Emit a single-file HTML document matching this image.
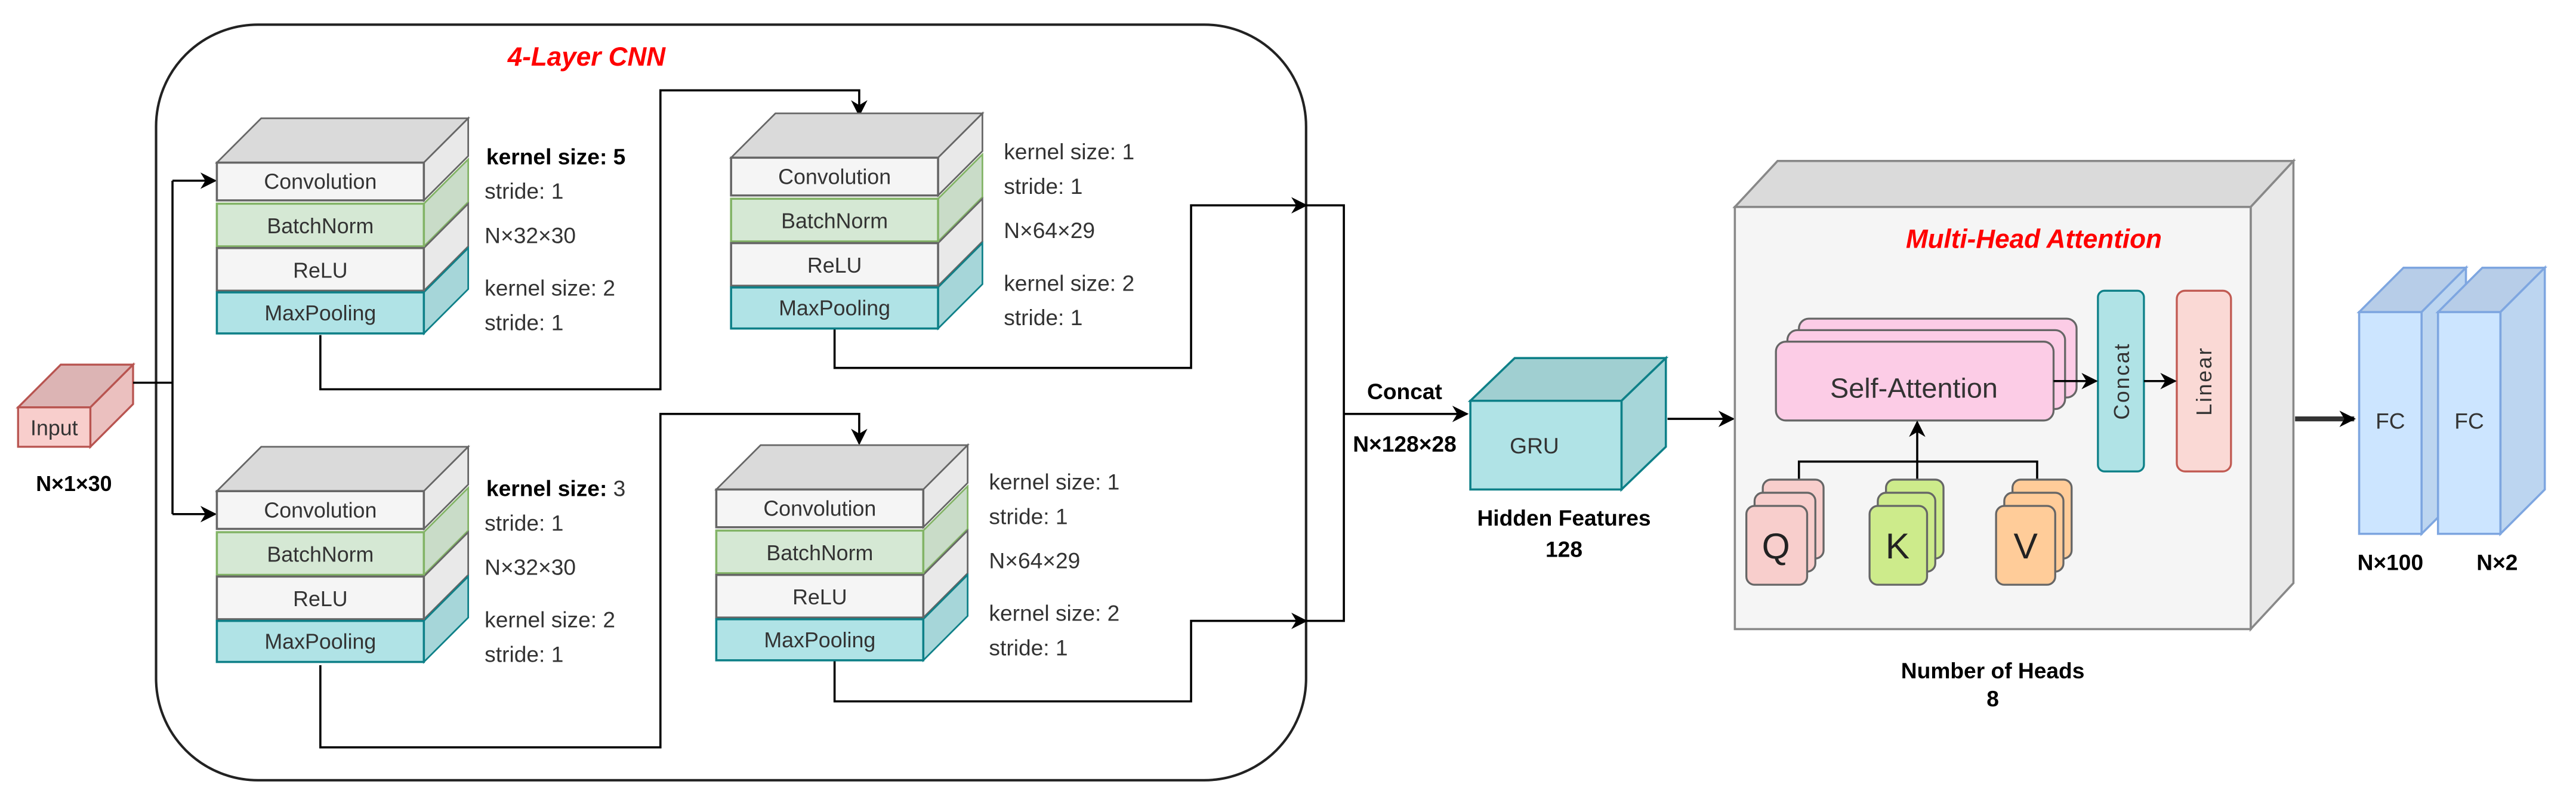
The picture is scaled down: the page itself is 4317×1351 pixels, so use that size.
<!DOCTYPE html>
<html><head><meta charset="utf-8"><style>
html,body{margin:0;padding:0;background:#fff}
svg{display:block}
text{font-family:"Liberation Sans",Arial,sans-serif}
</style></head><body>
<svg width="4317" height="1351" viewBox="0 0 1568 490.7" preserveAspectRatio="none" xmlns="http://www.w3.org/2000/svg">
<defs>
<marker id="a" markerWidth="10" markerHeight="10" refX="9" refY="5" orient="auto" markerUnits="userSpaceOnUse">
<path d="M0,0 L10,5 L0,10 L3,5 z" fill="#000"/></marker>
</defs>
<rect width="1568" height="491" fill="#fff"/>
<!-- CNN container -->
<rect x="95" y="15" width="700" height="460" rx="62" fill="none" stroke="#222" stroke-width="1.5"/>
<text x="357" y="40" font-size="16" font-weight="bold" font-style="italic" fill="#f00" text-anchor="middle">4-Layer CNN</text>

<!-- Input -->
<polygon points="11,248 37,222 81,222 55,248" fill="#dcb4b4" stroke="#b85450" stroke-width="1.2"/>
<polygon points="55,248 81,222 81,246 55,272" fill="#ebc0bf" stroke="#b85450" stroke-width="1.2"/>
<rect x="11" y="248" width="44" height="24" fill="#f8cecc" stroke="#b85450" stroke-width="1.2"/>
<text x="33" y="265" font-size="13" text-anchor="middle" fill="#333">Input</text>
<text x="45" y="299" font-size="13" font-weight="bold" text-anchor="middle">N×1×30</text>

<g fill="none" stroke="#000" stroke-width="1.3">
<path d="M81,233 H105"/>
<path d="M105,110 V313"/>
<path d="M105,110 H131" marker-end="url(#a)"/>
<path d="M105,313 H131" marker-end="url(#a)"/>
<path d="M195,204 V237 H402 V55 H523 V70" marker-end="url(#a)"/>
<path d="M195,405 V455 H402 V252 H523 V270" marker-end="url(#a)"/>
<path d="M508,200 V224 H725 V125 H795" marker-end="url(#a)"/>
<path d="M508,402 V427 H725 V378 H795" marker-end="url(#a)"/>
<path d="M795,125 H818 V378 H795"/>
<path d="M818,252 H893" marker-end="url(#a)"/>
<path d="M1015,255 H1055" marker-end="url(#a)"/>
</g>

<!-- Stacks -->
<g id="s1" transform="translate(132,99)">
<polygon points="0,0 27,-27 153,-27 126,0" fill="#dadada" stroke="#666"/>
<polygon points="126,0 153,-27 153,-4 126,23" fill="#e9e9e9" stroke="#666"/>
<polygon points="126,25 153,-2 153,24 126,51" fill="#c9dcc8" stroke="#82b366"/>
<polygon points="126,52 153,25 153,51 126,78" fill="#e9e9e9" stroke="#666"/>
<polygon points="126,79 153,52 153,77 126,104" fill="#a6d6d9" stroke="#0e8088"/>
<rect x="0" y="0" width="126" height="23" fill="#f5f5f5" stroke="#666" stroke-width="1.3"/>
<rect x="0" y="25" width="126" height="26" fill="#d5e8d4" stroke="#82b366" stroke-width="1.3"/>
<rect x="0" y="52" width="126" height="26" fill="#f5f5f5" stroke="#666" stroke-width="1.3"/>
<rect x="0" y="79" width="126" height="25" fill="#b0e3e6" stroke="#0e8088" stroke-width="1.3"/>
<g font-size="13" text-anchor="middle" fill="#333">
<text x="63" y="16">Convolution</text><text x="63" y="43">BatchNorm</text><text x="63" y="70">ReLU</text><text x="63" y="96">MaxPooling</text></g>
</g>
<g transform="translate(445,96)">
<polygon points="0,0 27,-27 153,-27 126,0" fill="#dadada" stroke="#666"/>
<polygon points="126,0 153,-27 153,-4 126,23" fill="#e9e9e9" stroke="#666"/>
<polygon points="126,25 153,-2 153,24 126,51" fill="#c9dcc8" stroke="#82b366"/>
<polygon points="126,52 153,25 153,51 126,78" fill="#e9e9e9" stroke="#666"/>
<polygon points="126,79 153,52 153,77 126,104" fill="#a6d6d9" stroke="#0e8088"/>
<rect x="0" y="0" width="126" height="23" fill="#f5f5f5" stroke="#666" stroke-width="1.3"/>
<rect x="0" y="25" width="126" height="26" fill="#d5e8d4" stroke="#82b366" stroke-width="1.3"/>
<rect x="0" y="52" width="126" height="26" fill="#f5f5f5" stroke="#666" stroke-width="1.3"/>
<rect x="0" y="79" width="126" height="25" fill="#b0e3e6" stroke="#0e8088" stroke-width="1.3"/>
<g font-size="13" text-anchor="middle" fill="#333">
<text x="63" y="16">Convolution</text><text x="63" y="43">BatchNorm</text><text x="63" y="70">ReLU</text><text x="63" y="96">MaxPooling</text></g>
</g>
<g transform="translate(132,299)">
<polygon points="0,0 27,-27 153,-27 126,0" fill="#dadada" stroke="#666"/>
<polygon points="126,0 153,-27 153,-4 126,23" fill="#e9e9e9" stroke="#666"/>
<polygon points="126,25 153,-2 153,24 126,51" fill="#c9dcc8" stroke="#82b366"/>
<polygon points="126,52 153,25 153,51 126,78" fill="#e9e9e9" stroke="#666"/>
<polygon points="126,79 153,52 153,77 126,104" fill="#a6d6d9" stroke="#0e8088"/>
<rect x="0" y="0" width="126" height="23" fill="#f5f5f5" stroke="#666" stroke-width="1.3"/>
<rect x="0" y="25" width="126" height="26" fill="#d5e8d4" stroke="#82b366" stroke-width="1.3"/>
<rect x="0" y="52" width="126" height="26" fill="#f5f5f5" stroke="#666" stroke-width="1.3"/>
<rect x="0" y="79" width="126" height="25" fill="#b0e3e6" stroke="#0e8088" stroke-width="1.3"/>
<g font-size="13" text-anchor="middle" fill="#333">
<text x="63" y="16">Convolution</text><text x="63" y="43">BatchNorm</text><text x="63" y="70">ReLU</text><text x="63" y="96">MaxPooling</text></g>
</g>
<g transform="translate(436,298)">
<polygon points="0,0 27,-27 153,-27 126,0" fill="#dadada" stroke="#666"/>
<polygon points="126,0 153,-27 153,-4 126,23" fill="#e9e9e9" stroke="#666"/>
<polygon points="126,25 153,-2 153,24 126,51" fill="#c9dcc8" stroke="#82b366"/>
<polygon points="126,52 153,25 153,51 126,78" fill="#e9e9e9" stroke="#666"/>
<polygon points="126,79 153,52 153,77 126,104" fill="#a6d6d9" stroke="#0e8088"/>
<rect x="0" y="0" width="126" height="23" fill="#f5f5f5" stroke="#666" stroke-width="1.3"/>
<rect x="0" y="25" width="126" height="26" fill="#d5e8d4" stroke="#82b366" stroke-width="1.3"/>
<rect x="0" y="52" width="126" height="26" fill="#f5f5f5" stroke="#666" stroke-width="1.3"/>
<rect x="0" y="79" width="126" height="25" fill="#b0e3e6" stroke="#0e8088" stroke-width="1.3"/>
<g font-size="13" text-anchor="middle" fill="#333">
<text x="63" y="16">Convolution</text><text x="63" y="43">BatchNorm</text><text x="63" y="70">ReLU</text><text x="63" y="96">MaxPooling</text></g>
</g>

<!-- Params -->
<g font-size="13.5" fill="#333">
<text x="296" y="100"><tspan font-weight="bold" fill="#000">kernel size:</tspan> <tspan font-weight="bold" fill="#000">5</tspan></text>
<text x="295" y="121">stride: 1</text>
<text x="295" y="148">N×32×30</text>
<text x="295" y="180">kernel size: 2</text>
<text x="295" y="201">stride: 1</text>
<text x="611" y="97">kernel size: 1</text>
<text x="611" y="118">stride: 1</text>
<text x="611" y="145">N×64×29</text>
<text x="611" y="177">kernel size: 2</text>
<text x="611" y="198">stride: 1</text>
<text x="296" y="302"><tspan font-weight="bold" fill="#000">kernel size:</tspan> 3</text>
<text x="295" y="323">stride: 1</text>
<text x="295" y="350">N×32×30</text>
<text x="295" y="382">kernel size: 2</text>
<text x="295" y="403">stride: 1</text>
<text x="602" y="298">kernel size: 1</text>
<text x="602" y="319">stride: 1</text>
<text x="602" y="346">N×64×29</text>
<text x="602" y="378">kernel size: 2</text>
<text x="602" y="399">stride: 1</text>
</g>
<text x="855" y="243" font-size="13.5" font-weight="bold" text-anchor="middle">Concat</text>
<text x="855" y="275" font-size="13.5" font-weight="bold" text-anchor="middle">N×128×28</text>

<!-- GRU -->
<polygon points="895,244 922,218 1014,218 987,244" fill="#a0cfd1" stroke="#0e8088" stroke-width="1.3"/>
<polygon points="987,244 1014,218 1014,272 987,298" fill="#a6d6d9" stroke="#0e8088" stroke-width="1.3"/>
<rect x="895" y="244" width="92" height="54" fill="#b0e3e6" stroke="#0e8088" stroke-width="1.3"/>
<text x="934" y="276" font-size="13.5" text-anchor="middle" fill="#333">GRU</text>
<text x="952" y="320" font-size="13.5" font-weight="bold" text-anchor="middle">Hidden Features</text>
<text x="952" y="339" font-size="13.5" font-weight="bold" text-anchor="middle">128</text>

<!-- MHA -->
<polygon points="1056,126 1082,98 1396,98 1370,126" fill="#dadada" stroke="#888" stroke-width="1.3"/>
<polygon points="1370,126 1396,98 1396,355 1370,383" fill="#e9e9e9" stroke="#888" stroke-width="1.3"/>
<rect x="1056" y="126" width="314" height="257" fill="#f5f5f5" stroke="#888" stroke-width="1.3"/>
<text x="1238" y="151" font-size="16" font-weight="bold" font-style="italic" fill="#f00" text-anchor="middle">Multi-Head Attention</text>
<rect x="1095" y="194" width="169" height="48" rx="6" fill="#fccce6" stroke="#666" stroke-width="1.2"/>
<rect x="1088" y="201" width="169" height="48" rx="6" fill="#fccce6" stroke="#666" stroke-width="1.2"/>
<rect x="1081" y="208" width="169" height="48" rx="6" fill="#fccce6" stroke="#666" stroke-width="1.2"/>
<text x="1165" y="242" font-size="17" text-anchor="middle" fill="#333">Self-Attention</text>
<rect x="1277" y="177" width="28" height="110" rx="4" fill="#b0e3e6" stroke="#0e8088" stroke-width="1.2"/>
<text transform="translate(1296,232) rotate(-90)" font-size="13" text-anchor="middle" fill="#333" letter-spacing="1">Concat</text>
<rect x="1325" y="177" width="33" height="110" rx="5" fill="#fad9d5" stroke="#c15a52" stroke-width="1.2"/>
<text transform="translate(1346,232) rotate(-90)" font-size="13" text-anchor="middle" fill="#333" letter-spacing="1">Linear</text>
<g fill="none" stroke="#000" stroke-width="1.3">
<path d="M1250,232 H1276" marker-end="url(#a)"/>
<path d="M1305,232 H1324" marker-end="url(#a)"/>
<path d="M1095,292 V281 H1240 V292"/>
<path d="M1167,292 V257" marker-end="url(#a)"/>
</g>
<!-- Q K V -->
<g stroke-width="1.2">
<rect x="1073" y="292" width="37" height="48" rx="5" fill="#f8cecc" stroke="#666"/>
<rect x="1068" y="300" width="37" height="48" rx="5" fill="#f8cecc" stroke="#666"/>
<rect x="1063" y="308" width="37" height="48" rx="5" fill="#f8cecc" stroke="#666"/>
<rect x="1148" y="292" width="35" height="48" rx="5" fill="#cdeb8b" stroke="#666"/>
<rect x="1143" y="300" width="35" height="48" rx="5" fill="#cdeb8b" stroke="#666"/>
<rect x="1138" y="308" width="35" height="48" rx="5" fill="#cdeb8b" stroke="#666"/>
<rect x="1225" y="292" width="36" height="48" rx="5" fill="#ffcc99" stroke="#666"/>
<rect x="1220" y="300" width="36" height="48" rx="5" fill="#ffcc99" stroke="#666"/>
<rect x="1215" y="308" width="36" height="48" rx="5" fill="#ffcc99" stroke="#666"/>
</g>
<g font-size="22" text-anchor="middle" fill="#222">
<text x="1081" y="340">Q</text><text x="1155" y="340">K</text><text x="1233" y="340">V</text></g>
<text x="1213" y="413" font-size="13.5" font-weight="bold" text-anchor="middle">Number of Heads</text>
<text x="1213" y="430" font-size="13.5" font-weight="bold" text-anchor="middle">8</text>

<!-- FC -->
<path d="M1397,255 H1433" stroke="#333" stroke-width="3" fill="none" marker-end="url(#a)"/>
<polygon points="1436,190 1463,163 1501,163 1474,190" fill="#b7cde8" stroke="#7ea6e0" stroke-width="1.3"/>
<polygon points="1474,190 1501,163 1501,298 1474,325" fill="#bcd5f0" stroke="#7ea6e0" stroke-width="1.3"/>
<rect x="1436" y="190" width="38" height="135" fill="#cce5ff" stroke="#7ea6e0" stroke-width="1.3"/>
<polygon points="1484,190 1511,163 1549,163 1522,190" fill="#b7cde8" stroke="#7ea6e0" stroke-width="1.3"/>
<polygon points="1522,190 1549,163 1549,298 1522,325" fill="#bcd5f0" stroke="#7ea6e0" stroke-width="1.3"/>
<rect x="1484" y="190" width="38" height="135" fill="#cce5ff" stroke="#7ea6e0" stroke-width="1.3"/>
<text x="1455" y="261" font-size="13.5" text-anchor="middle" fill="#333">FC</text>
<text x="1503" y="261" font-size="13.5" text-anchor="middle" fill="#333">FC</text>
<text x="1455" y="347" font-size="13.5" font-weight="bold" text-anchor="middle">N×100</text>
<text x="1520" y="347" font-size="13.5" font-weight="bold" text-anchor="middle">N×2</text>
</svg>
</body></html>
